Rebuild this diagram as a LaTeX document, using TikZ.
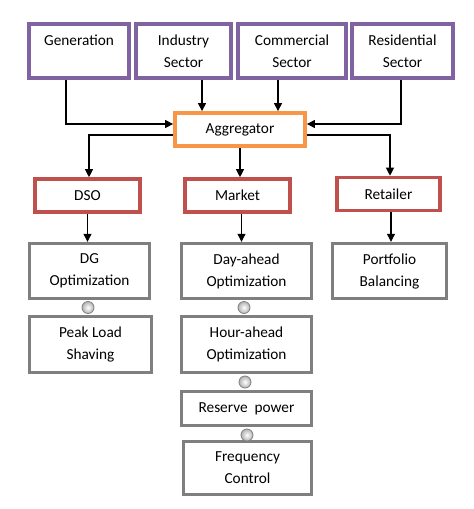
\documentclass[tikz,border=0pt]{standalone}
\usepackage{fontspec}
\setmainfont{Carlito}
\usetikzlibrary{arrows.meta,positioning}
\definecolor{sectorpurple}{HTML}{8064A2}
\definecolor{aggorange}{HTML}{F79646}
\definecolor{actorred}{HTML}{C0504D}
\definecolor{taskgray}{HTML}{7F7F7F}

\begin{document}
\begin{tikzpicture}[x=1pt,y=1pt,
  every node/.style={font=\fontsize{15.3}{22}\selectfont,align=center,inner sep=0pt},
  sector/.style={draw=sectorpurple,line width=3.8pt,minimum width=#1,minimum height=54pt},
  aggbox/.style={draw=aggorange,line width=3.8pt,minimum width=130pt,minimum height=33pt},
  actor/.style={draw=actorred,line width=3.6pt,minimum width=#1,minimum height=33pt},
  task/.style 2 args={draw=taskgray,line width=3.4pt,minimum width=#1,minimum height=#2},
  knob/.style={circle,draw=taskgray,line width=0.8pt,shading=radial,inner color=white,outer color=gray!60,minimum size=12pt},
  link/.style={line width=1.1pt,-{Triangle[length=8pt,width=8pt]}}]
\useasboundingbox (0,0) rectangle (474,-509);
% first row
\node[sector=100pt] (gen) at (79,-51) {Generation\\~};
\node[sector=95pt] (ind) at (183.5,-51) {Industry\\Sector};
\node[sector=108pt] (com) at (292,-51) {Commercial\\Sector};
\node[sector=101pt] (res) at (402.5,-51) {Residential\\Sector};
\node[aggbox] (agg) at (240,-129.5) {Aggregator};
% second row
\node[actor=105pt] (dso) at (87.5,-195.5) {DSO};
\node[actor=105pt] (mkt) at (237.5,-195.5) {Market};
\node[actor=103pt] (ret) at (388.5,-194) {Retailer};
% tasks
\node[task={120pt}{55pt}] (dg) at (89.5,-271) {DG\\Optimization};
\node[task={130pt}{55pt}] (day) at (246.5,-271) {Day-ahead\\Optimization};
\node[task={114pt}{55pt}] (port) at (389.5,-271) {Portfolio\\Balancing};
\node[task={122pt}{56pt}] (peak) at (90.5,-344.5) {Peak Load\\Shaving};
\node[task={130pt}{56pt}] (hour) at (246.5,-344.5) {Hour-ahead\\Optimization};
\node[task={130pt}{34pt}] (resv) at (246.5,-408.5) {Reserve~ power};
\node[task={128pt}{53pt}] (freq) at (247.5,-468) {Frequency\\Control};
% connectors
\draw[link] ([xshift=-13pt]gen.south) |- ([yshift=5.5pt]agg.west);
\draw[link] ([xshift=18.5pt]ind.south) -- ([xshift=18.5pt]ind.south |- agg.north);
\draw[link] ([xshift=-14pt]com.south) -- ([xshift=-14pt]com.south |- agg.north);
\draw[link] ([xshift=-1.5pt]res.south) |- ([yshift=5.5pt]agg.east);
\draw[link] ([yshift=-5.5pt]agg.west) -| ([xshift=1.5pt]dso.north);
\draw[link] (agg.south) -- (agg.south |- mkt.north);
\draw[link] ([yshift=-5.5pt]agg.east) -| ([xshift=1.5pt]ret.north);
\draw[link] (dso.south) -- (dso.south |- dg.north);
\draw[link] ([xshift=4pt]mkt.south) -- ([xshift=4pt]mkt.south |- day.north);
\draw[link] ([xshift=2.5pt]ret.south) -- ([xshift=2.5pt]ret.south |- port.north);
% joints
\node[knob] (k1) at (88,-307.5) {};
\node[knob] (k2) at (244,-307.5) {};
\node[knob] (k3) at (245,-382) {};
\node[knob] (k4) at (247,-435) {};
\end{tikzpicture}
\end{document}
